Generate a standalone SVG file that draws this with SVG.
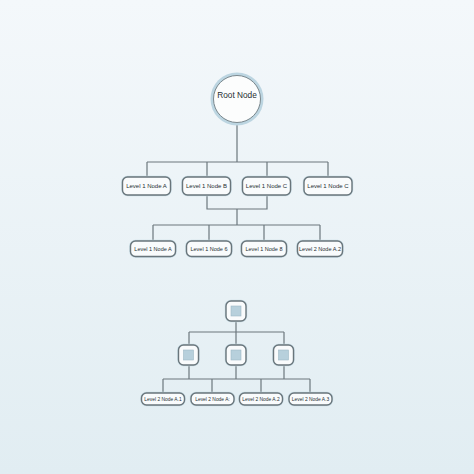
<svg xmlns="http://www.w3.org/2000/svg" width="474" height="474" viewBox="0 0 474 474">
<defs>
<linearGradient id="bg" x1="0" y1="0" x2="0" y2="1">
<stop offset="0" stop-color="#f4f8fb"/>
<stop offset="1" stop-color="#e1edf2"/>
</linearGradient>
<style>
.ln{stroke:#6c777d;stroke-width:1.2;fill:none}
.box{fill:#f9fbfc;stroke:#69757b;stroke-width:1.4}
.halo{fill:none;stroke:#c9dde6;stroke-width:2.5}
.t{font-family:"Liberation Sans",Arial,sans-serif;fill:#262e32;text-anchor:middle}
.t1{font-size:6px}
.t2{font-size:5.5px}
.t3{font-size:4.9px}
.sq{fill:#f9fbfc;stroke:#69757b;stroke-width:1.4}
.in{fill:#b7d0dc;stroke:#9fb9c6;stroke-width:0.6}
</style>
</defs>
<rect width="474" height="474" fill="url(#bg)"/>
<g id="connectors">
<path class="ln" d="M237 125V162M147 162H328M147 162V177M207 162V177M267 162V177M328 162V177"/>
<path class="ln" d="M207 195V209H267V195M237 209V225M153 225H320M153 225V241M209 225V241M264 225V241M320 225V241"/>
<path class="ln" d="M236 321V332M189 332H284M189 332V345M236 332V345M284 332V345"/>
<path class="ln" d="M189 365V379M236 365V379M284 365V379M163 379H310M163 379V393M212 379V393M261 379V393M310 379V393"/>
</g>
<g id="root">
<circle cx="237" cy="99" r="26.5" fill="#bcd5e1"/>
<circle cx="237" cy="99" r="23.5" fill="#fcfdfd" stroke="#7b888e" stroke-width="1"/>
<text class="t" x="237" y="98" font-size="8.3px">Root Node</text>
</g>
<g id="l1a"><rect class="halo" x="122.5" y="177" width="48" height="18" rx="5"/><rect class="box" x="122.5" y="177" width="48" height="18" rx="5"/><text class="t t1" x="146.5" y="188.2">Level 1 Node A</text></g>
<g id="l1b"><rect class="halo" x="182.5" y="177" width="48" height="18" rx="5"/><rect class="box" x="182.5" y="177" width="48" height="18" rx="5"/><text class="t t1" x="206.5" y="188.2">Level 1 Node B</text></g>
<g id="l1c"><rect class="halo" x="242.5" y="177" width="48" height="18" rx="5"/><rect class="box" x="242.5" y="177" width="48" height="18" rx="5"/><text class="t t1" x="266.5" y="188.2">Level 1 Node C</text></g>
<g id="l1c2"><rect class="halo" x="304" y="177" width="48" height="18" rx="5"/><rect class="box" x="304" y="177" width="48" height="18" rx="5"/><text class="t t1" x="328" y="188.2">Level 1 Node C</text></g>
<g id="l2a"><rect class="halo" x="130.5" y="241" width="45" height="15.5" rx="5"/><rect class="box" x="130.5" y="241" width="45" height="15.5" rx="5"/><text class="t t2" x="153" y="250.7">Level 1 Node A</text></g>
<g id="l2b"><rect class="halo" x="186.5" y="241" width="45" height="15.5" rx="5"/><rect class="box" x="186.5" y="241" width="45" height="15.5" rx="5"/><text class="t t2" x="209" y="250.7">Level 1 Node 6</text></g>
<g id="l2c"><rect class="halo" x="241.5" y="241" width="45" height="15.5" rx="5"/><rect class="box" x="241.5" y="241" width="45" height="15.5" rx="5"/><text class="t t2" x="264" y="250.7">Level 1 Node 8</text></g>
<g id="l2d"><rect class="halo" x="297.5" y="241" width="45" height="15.5" rx="5"/><rect class="box" x="297.5" y="241" width="45" height="15.5" rx="5"/><text class="t t2" x="320" y="250.7">Level 2 Node A.2</text></g>
<g id="sqTop"><rect class="halo" x="226" y="301" width="20" height="20" rx="5"/><rect class="sq" x="226" y="301" width="20" height="20" rx="5"/><rect class="in" x="231" y="306" width="10" height="10"/></g>
<g id="sq1"><rect class="halo" x="178.5" y="345" width="20" height="20" rx="5"/><rect class="sq" x="178.5" y="345" width="20" height="20" rx="5"/><rect class="in" x="183.5" y="350" width="10" height="10"/></g>
<g id="sq2"><rect class="halo" x="226" y="345" width="20" height="20" rx="5"/><rect class="sq" x="226" y="345" width="20" height="20" rx="5"/><rect class="in" x="231" y="350" width="10" height="10"/></g>
<g id="sq3"><rect class="halo" x="273.5" y="345" width="20" height="20" rx="5"/><rect class="sq" x="273.5" y="345" width="20" height="20" rx="5"/><rect class="in" x="278.5" y="350" width="10" height="10"/></g>
<g id="b1"><rect class="halo" x="141.5" y="393" width="43" height="12" rx="5"/><rect class="box" x="141.5" y="393" width="43" height="12" rx="5"/><text class="t t3" x="163" y="400.7">Level 2 Node A.1</text></g>
<g id="b2"><rect class="halo" x="191" y="393" width="43" height="12" rx="5"/><rect class="box" x="191" y="393" width="43" height="12" rx="5"/><text class="t t3" x="212.5" y="400.7">Level 2 Node A:</text></g>
<g id="b3"><rect class="halo" x="239.5" y="393" width="43" height="12" rx="5"/><rect class="box" x="239.5" y="393" width="43" height="12" rx="5"/><text class="t t3" x="261" y="400.7">Level 2 Node A.2</text></g>
<g id="b4"><rect class="halo" x="289" y="393" width="43" height="12" rx="5"/><rect class="box" x="289" y="393" width="43" height="12" rx="5"/><text class="t t3" x="310.5" y="400.7">Level 2 Node A.3</text></g>
</svg>
